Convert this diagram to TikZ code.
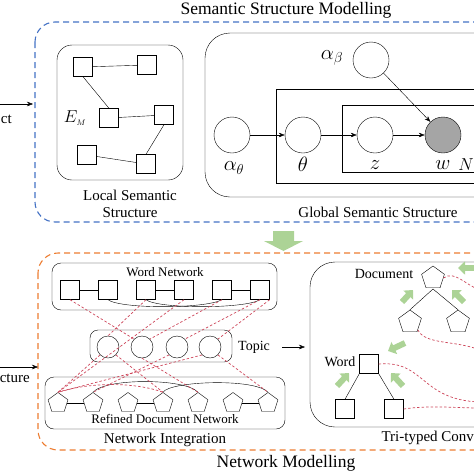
\documentclass[tikz,border=0pt]{standalone}
\usepackage{fontspec}
\setmainfont{Liberation Serif}
\usetikzlibrary{shapes.geometric,arrows.meta}

\definecolor{semblue}{RGB}{68,114,196}
\definecolor{netorange}{RGB}{237,125,49}
\definecolor{linkred}{RGB}{205,70,90}
\definecolor{pushgreen}{RGB}{172,211,150}
\definecolor{obsgray}{RGB}{165,165,165}

\tikzset{
  sq/.style={draw,minimum size=19pt,inner sep=0pt},
  pent/.style={draw,regular polygon,regular polygon sides=5,minimum size=21pt,inner sep=0pt},
  bigpent/.style={pent,minimum size=24pt},
  tcirc/.style={draw,circle,minimum size=22pt,inner sep=0pt},
  var/.style={draw,circle,minimum size=36pt,inner sep=0pt},
  panel/.style={draw,rounded corners=15pt},
  tie/.style={color=linkred,dash pattern=on 2.5pt off 2pt,line width=0.7pt},
  push/.style={-{Triangle[length=7pt,width=13pt]},line width=6pt,color=pushgreen},
  big/.style={font=\fontsize{17.5}{19}\selectfont},
  mid/.style={font=\fontsize{15}{16.5}\selectfont},
  small/.style={font=\fontsize{13}{14}\selectfont},
  tag/.style={font=\fontsize{14}{15}\selectfont},
  sym/.style={font=\fontsize{21}{22}\selectfont},
}

\begin{document}
\begin{tikzpicture}[x=1pt,y=-1pt,>={Stealth[length=6pt]}]
  \useasboundingbox (0,0) rectangle (474,474);

  %% Semantic Structure Modelling
  \draw[semblue,line width=1.1pt,dash pattern=on 6pt off 4pt,rounded corners=20pt] (35,22) rectangle (520,222);
  \node[big] (semtitle) at (286,10) {Semantic Structure Modelling};

  \coordinate (inA) at (0,104);
  \coordinate (inB) at (33,104);
  \node[mid,anchor=east,inner sep=0pt] (ctlbl) at (12,119) {ct};
  \draw[->] (inA) -- (inB);

  % local structure
  \draw[panel] (57,45) rectangle (183,180);
  \node[sq] (s1) at (83,67) {};
  \node[sq] (s2) at (147,65) {};
  \node[sq] (s3) at (109,118) {};
  \node[sq] (s4) at (164,115) {};
  \node[sq] (s5) at (87,155) {};
  \node[sq] (s6) at (146,164) {};
  \draw (s1) -- (s2);
  \draw (s1.south) -- (s3.north);
  \draw (s3) -- (s4);
  \draw (s4.south) -- (s6.north);
  \draw (s5) -- (s6);
  \node[font=\fontsize{16}{17}\selectfont] (elbl) at (75,118) {$E_{\scriptscriptstyle M}$};
  \node[mid,align=center] (locallbl) at (130,204) {Local Semantic\\Structure};

  % global structure
  \draw[rounded corners=25pt] (205,33) rectangle (520,197);
  \draw (276,89) rectangle (520,183);
  \draw (342,105) rectangle (520,172);
  \node[var] (atheta) at (232,135) {};
  \node[var] (theta) at (303,135) {};
  \node[var] (z) at (375,135) {};
  \node[var,fill=obsgray] (w) at (443,135) {};
  \node[var] (abeta) at (371,60) {};
  \draw[->] (atheta) -- (theta);
  \draw[->] (theta) -- (z);
  \draw[->] (z) -- (w);
  \draw[->] (abeta) -- (w);
  \node[sym] (athetalbl) at (234,168) {$\alpha_\theta$};
  \node[sym] (thetalbl) at (303,164) {$\theta$};
  \node[sym] (zlbl) at (375,165) {$z$};
  \node[sym] (wlbl) at (443,165) {$w$};
  \node[font=\fontsize{18}{19}\selectfont,anchor=east,inner sep=0pt] (nlbl) at (474,165) {$N$};
  \node[sym] (abetalbl) at (332,58) {$\alpha_\beta$};
  \node[mid] (globallbl) at (378,212) {Global Semantic Structure};

  %% transition
  \fill[pushgreen] (273,231) -- (294,231) -- (294,241) -- (303,241) -- (283.5,251) -- (264,241) -- (273,241) -- cycle;

  %% Network Modelling
  \draw[netorange,line width=1.1pt,dash pattern=on 6pt off 4pt,rounded corners=20pt] (38,253) rectangle (520,450);
  \node[big] (nettitle) at (286,463) {Network Modelling};

  \coordinate (inC) at (0,367);
  \coordinate (inD) at (38,367);
  \node[mid,anchor=east,inner sep=0pt] (cturelbl) at (30,378) {cture};
  \draw[->] (inC) -- (inD);

  % word network
  \draw[rounded corners=9pt] (52,263) rectangle (277,310);
  \node[small] (wordnet) at (165,272) {Word Network};
  \foreach \i/\x in {1/70,2/108,3/146,4/184,5/222,6/260}
    \node[sq] (w\i) at (\x,290) {};
  \draw (w1) -- (w2);
  \draw (w3) -- (w4);
  \draw (w5) -- (w6);
  \draw (w2.south) .. controls (120,309) and (205,309) .. (w5.south);
  \draw (w3.south) .. controls (158,309) and (245,309) .. (w6.south);

  % topics
  \draw[rounded corners=8pt] (90,330) rectangle (232,362);
  \foreach \i/\x in {1/108,2/142,3/177,4/210}
    \node[tcirc] (t\i) at (\x,347) {};
  \node[tag] (topiclbl) at (254,347) {Topic};

  % refined document network
  \draw[rounded corners=9pt] (45,377) rectangle (285,429);
  \foreach \i/\x in {1/58,2/93,3/128,4/163,5/198,6/233,7/268}
    \node[pent] (d\i) at (\x,403) {};
  \draw (d1) -- (d2);
  \draw (d3) -- (d4);
  \draw (d6) -- (d7);
  \draw (d2.north) .. controls (105,378) and (185,378) .. (d5.north);
  \draw (d4.north) .. controls (170,381) and (255,378) .. (d7.north);
  \node[small] (refinedlbl) at (165,419) {Refined Document Network};
  \node[mid] (integlbl) at (165,440) {Network Integration};

  % cross links
  \draw[tie] (w1.south) -- (t2.north west);
  \draw[tie] (w3.south) -- (t1.north);
  \draw[tie] (w4.south) -- (d1.north);
  \draw[tie] (w5.south) -- (t2.north east);
  \draw[tie] (w6.south) -- (t3.north east);
  \draw[tie] (w6.south east) -- (t4.north east);
  \draw[tie] (t1.south west) -- (d1.north);
  \draw[tie] (t1.south east) -- (d4.north);
  \draw[tie] (t2.south) -- (d5.north);
  \draw[tie] (t3.south west) -- (d2.north);
  \draw[tie] (t4.south west) -- (d1.north);
  \draw[tie] (t4.south east) -- (d7.north);
  \draw[tie] (d1.north) .. controls (90,382) and (135,382) .. (d4.north);

  \coordinate (topA) at (282,347);
  \coordinate (topB) at (305,347);
  \draw[->] (topA) -- (topB);

  % tri-typed part
  \draw[rounded corners=25pt] (310,262) rectangle (520,427);
  \node[mid,anchor=west] (trilbl) at (378,438) {Tri-typed Conv};

  \node[tag] (doclbl) at (384,274) {Document};
  \node[bigpent] (dtop) at (433,278) {};
  \node[bigpent] (dleft) at (410,322) {};
  \node[bigpent] (dright) at (458,322) {};
  \coordinate (dfork) at (433,289);
  \draw (dfork) -- (dleft.north);
  \draw (dfork) -- (dright.north);

  \node[tag] (wordlbl) at (340,362) {Word};
  \node[sq] (wtop) at (369,364) {};
  \node[sq] (wleft) at (345,409) {};
  \node[sq] (wright) at (394,409) {};
  \draw (wtop.south west) -- (wleft.north);
  \draw (wtop.south east) -- (wright.north);

  % convolution pushes
  \coordinate (g1a) at (402,302); \coordinate (g1b) at (413,290);
  \coordinate (g2a) at (464,302); \coordinate (g2b) at (452,290);
  \coordinate (g3a) at (476,268); \coordinate (g3b) at (458,268);
  \coordinate (g4a) at (337,386); \coordinate (g4b) at (349,373);
  \coordinate (g5a) at (403,386); \coordinate (g5b) at (391,373);
  \coordinate (g6a) at (405,343); \coordinate (g6b) at (388,351);
  \foreach \a/\b in {g1a/g1b,g2a/g2b,g3a/g3b,g4a/g4b,g5a/g5b,g6a/g6b}
    \draw[push] (\a) -- (\b);

  % links leaving the picture
  \coordinate (e1) at (480,290);
  \coordinate (e2) at (480,350);
  \coordinate (e3) at (480,402);
  \coordinate (e4) at (480,408);
  \draw[tie] (dtop.east) .. controls (455,270) and (465,285) .. (e1);
  \draw[tie] (dleft.south east) .. controls (425,345) and (455,340) .. (e2);
  \draw[tie] (wtop.east) .. controls (425,360) and (420,400) .. (e3);
  \draw[tie] (wright.east) .. controls (430,405) and (455,408) .. (e4);
\end{tikzpicture}
\end{document}
